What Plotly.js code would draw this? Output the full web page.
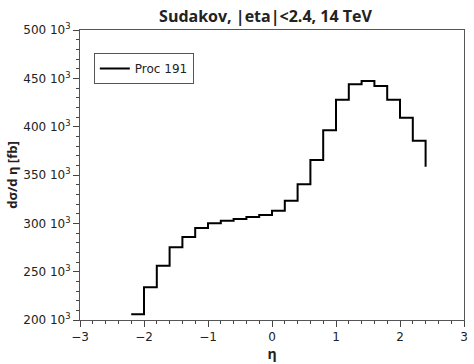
<!DOCTYPE html>
<html>
<head>
<meta charset="utf-8">
<script src="https://cdn.plot.ly/plotly-3.0.1.min.js"></script>
<style>html,body{margin:0;padding:0;background:#fff;}#chart{width:474px;height:364px;}</style>
</head>
<body>
<div id="chart"></div>
<script>
// bin edges (eta) and values (fb); last value is the closing drop at eta=2.4
const binEdges = [-2.2, -2.0, -1.8, -1.6, -1.4, -1.2, -1.0, -0.8, -0.6, -0.4, -0.2, 0.0,
                  0.2, 0.4, 0.6, 0.8, 1.0, 1.2, 1.4, 1.6, 1.8, 2.0, 2.2, 2.4];
const binValues = [206, 233.8, 256.2, 275.2, 285.9, 295.2, 300.0, 302.8, 304.5, 306.6, 308.6, 313.0,
                   323.3, 340.4, 365.5, 396.2, 427.9, 443.8, 447.2, 442.1, 427.9, 409.3, 385.5, 358.6];
const seriesName = "Proc 191";
const yTickVals = [200, 250, 300, 350, 400, 450, 500];
const yTickText = ["200 10<sup>3</sup>", "250 10<sup>3</sup>", "300 10<sup>3</sup>", "350 10<sup>3</sup>",
                   "400 10<sup>3</sup>", "450 10<sup>3</sup>", "500 10<sup>3</sup>"];
const xTickVals = [-3, -2, -1, 0, 1, 2, 3];
const xTickText = ["\u22123", "\u22122", "\u22121", "0", "1", "2", "3"];

const font = "DejaVu Sans, sans-serif";
const boldFont = "Open Sans, sans-serif";
const trace = {
  x: binEdges, y: binValues, type: "scatter", mode: "lines", name: seriesName,
  line: {shape: "hv", color: "#000", width: 2}
};
const axisCommon = {
  showline: true, mirror: true, linecolor: "#555", linewidth: 1,
  ticks: "outside", ticklen: 6, tickcolor: "#444", tickwidth: 1,
  showgrid: false, zeroline: false,
  tickfont: {family: font, size: 12, color: "#222"}
};
const layout = {
  width: 474, height: 364,
  margin: {l: 80, r: 10, t: 30, b: 44},
  paper_bgcolor: "#fff", plot_bgcolor: "#fff",
  title: {text: "<b>Sudakov, |eta|<2.4, 14 TeV</b>", x: 0.56, xanchor: "center", y: 0.955, yanchor: "middle",
          font: {family: boldFont, size: 16, color: "#222"}},
  xaxis: Object.assign({}, axisCommon, {
    range: [-3, 3], tickvals: xTickVals, ticktext: xTickText,
    minor: {dtick: 0.2, ticks: "outside", ticklen: 3, tickcolor: "#444", tickwidth: 1, showgrid: false},
    title: {text: "<b>η</b>", font: {family: boldFont, size: 14, color: "#222"}, standoff: 5}
  }),
  yaxis: Object.assign({}, axisCommon, {
    range: [200, 500], tickvals: yTickVals, ticktext: yTickText,
    minor: {dtick: 10, ticks: "outside", ticklen: 3, tickcolor: "#444", tickwidth: 1, showgrid: false},
    title: {text: "<b>dσ/d η [fb]</b>", font: {family: boldFont, size: 13, color: "#222"}, standoff: 2}
  }),
  showlegend: true,
  legend: {x: 0.036, y: 0.921, xanchor: "left", yanchor: "top", bgcolor: "#fff",
           bordercolor: "#555", borderwidth: 1, font: {family: font, size: 12, color: "#222"},
           itemwidth: 30}
};
Plotly.newPlot("chart", [trace], layout, {displayModeBar: false, staticPlot: true});
</script>
</body>
</html>
